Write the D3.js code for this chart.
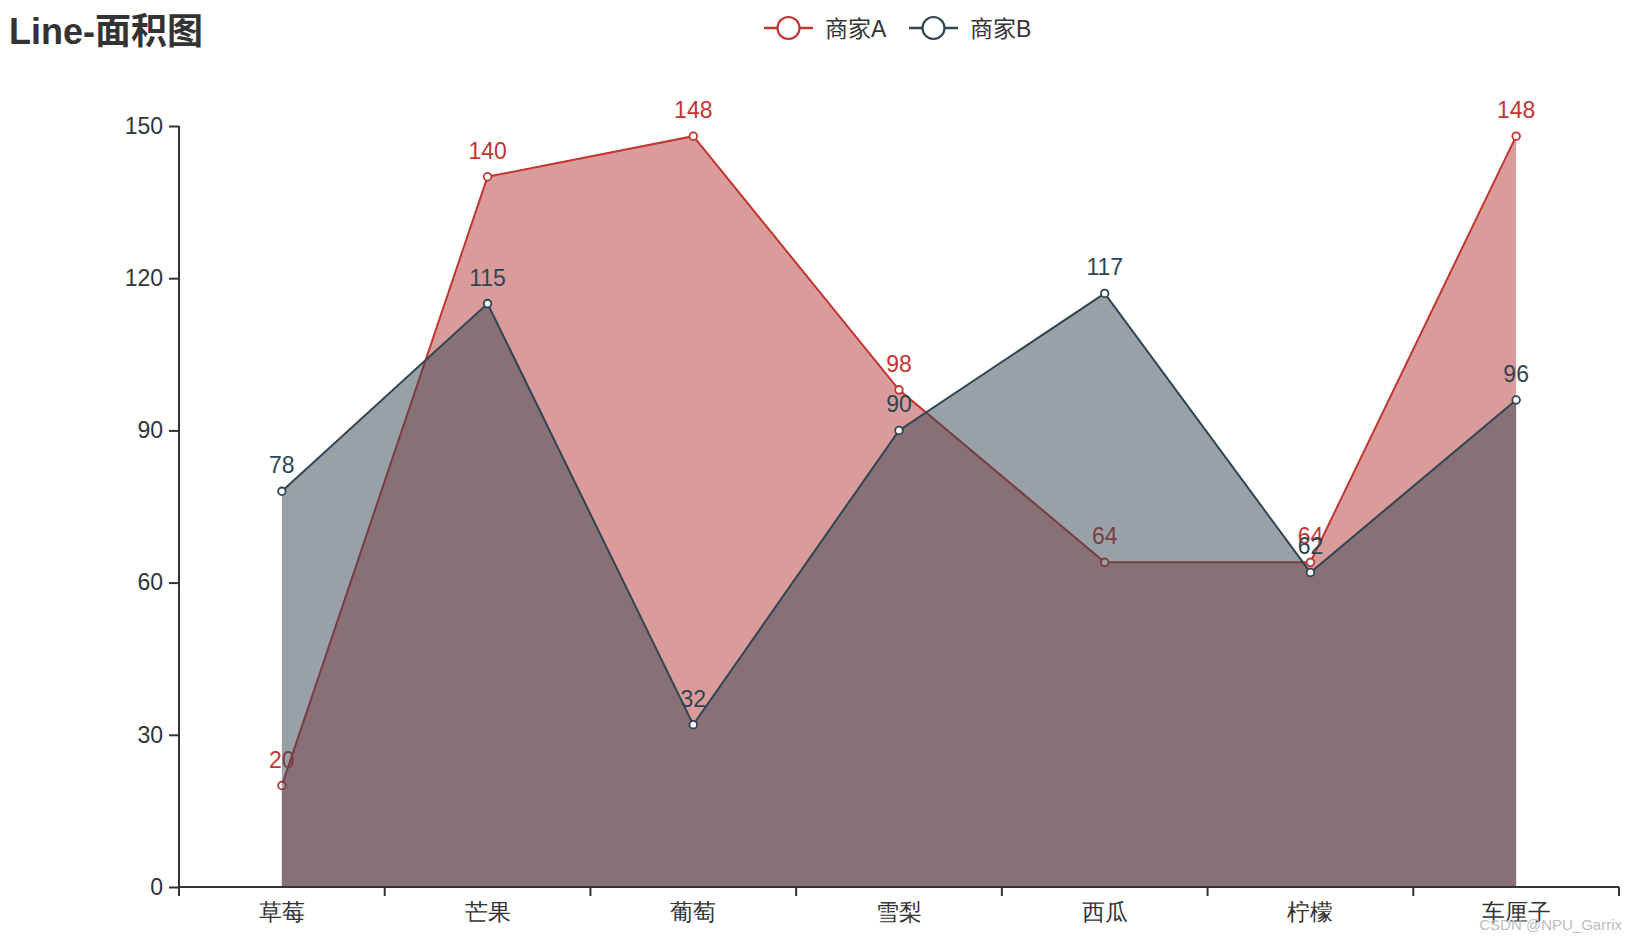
<!DOCTYPE html>
<html>
<head>
<meta charset="utf-8">
<script src="https://cdn.jsdelivr.net/npm/d3@7"></script>
<style>
  body { margin: 0; background: #fff; }
  svg { font-family: "Helvetica Neue", Arial, "Liberation Sans", "Noto Sans CJK SC", sans-serif; }
</style>
</head>
<body>
<svg id="chart" width="1638" height="942"></svg>
<script>
var categories = ["草莓", "芒果", "葡萄", "雪梨", "西瓜", "柠檬", "车厘子"]
var seriesNames = ["商家A", "商家B"]
var valuesA = [20, 140, 148, 98, 64, 64, 148]
var valuesB = [78, 115, 32, 90, 117, 62, 96]
var yTicks = [0, 30, 60, 90, 120, 150]
var colors = ["#c23531", "#2f4554"]
var areaColors = ["#b53a37", "#344351"]

var plotLeft = 179, plotRight = 1619, plotTop = 126, plotBottom = 887

var svg = d3.select("#chart")

// scales
var x = d3.scaleBand().domain(categories).range([plotLeft, plotRight])
var y = d3.scaleLinear().domain([0, 150]).range([plotBottom, plotTop])

// title
svg.append("text")
    .attr("x", 9).attr("y", 44)
    .attr("font-size", 36).attr("font-weight", "bold")
    .attr("fill", "#333")
    .text("Line-面积图")

// legend
var legendX = [764, 909]
seriesNames.forEach(function (name, i) {
    var g = svg.append("g").attr("transform", "translate(" + legendX[i] + ",28)")
    g.append("line").attr("x1", 0).attr("x2", 49).attr("y1", 0).attr("y2", 0)
        .attr("stroke", colors[i]).attr("stroke-width", 2.5)
    g.append("circle").attr("cx", 24.5).attr("cy", 0).attr("r", 11)
        .attr("fill", "#fff").attr("stroke", colors[i]).attr("stroke-width", 2.2)
    g.append("text").attr("x", 61).attr("y", 9)
        .attr("font-size", 23).attr("fill", "#333").text(name)
})

// series - A first, B on top
var allData = [valuesA, valuesB]
var cx = function (d, i) { return x(categories[i]) + x.bandwidth() / 2 }

allData.forEach(function (vals, s) {
    var g = svg.append("g").attr("class", "series")

    var area = d3.area()
        .x(cx)
        .y0(y(0))
        .y1(function (d) { return y(d) })
    g.append("path").datum(vals)
        .attr("d", area)
        .attr("fill", areaColors[s]).attr("fill-opacity", 0.5)

    var line = d3.line().x(cx).y(function (d) { return y(d) })
    g.append("path").datum(vals)
        .attr("d", line)
        .attr("fill", "none").attr("stroke", colors[s]).attr("stroke-width", 2)

    g.selectAll(".dot").data(vals).enter().append("circle")
        .attr("class", "dot")
        .attr("cx", cx)
        .attr("cy", function (d) { return y(d) })
        .attr("r", 3.8)
        .attr("fill", "#fff").attr("stroke", colors[s]).attr("stroke-width", 1.8)

    g.selectAll(".lbl").data(vals).enter().append("text")
        .attr("class", "lbl")
        .attr("x", cx)
        .attr("y", function (d) { return y(d) - 18 })
        .attr("text-anchor", "middle")
        .attr("font-size", 23)
        .attr("fill", colors[s])
        .text(function (d) { return d })
})

// axes
var yAxis = d3.axisLeft(y).tickValues(yTicks).tickSize(10).tickPadding(6)
var gy = svg.append("g").attr("transform", "translate(" + plotLeft + ",0)").call(yAxis)
gy.select(".domain").attr("stroke", "#333").attr("stroke-width", 2)
    .attr("d", "M0," + plotTop + "V" + plotBottom)
gy.selectAll(".tick line").attr("stroke", "#333").attr("stroke-width", 2)
gy.selectAll(".tick text").attr("font-size", 23).attr("fill", "#333")
    .attr("font-family", null)

var xAxis = d3.axisBottom(x).tickSize(0).tickPadding(17)
var gx = svg.append("g").attr("transform", "translate(0," + plotBottom + ")").call(xAxis)
gx.select(".domain").attr("stroke", "#333").attr("stroke-width", 2)
    .attr("d", "M" + plotLeft + ",0H" + plotRight)
gx.selectAll(".tick text").attr("font-size", 23).attr("fill", "#333")
    .attr("font-family", null)
// boundary ticks between categories
var bounds = categories.map(function (c) { return x(c) }).concat([plotRight])
gx.selectAll(".bound").data(bounds).enter().append("line")
    .attr("class", "bound")
    .attr("x1", function (d) { return d }).attr("x2", function (d) { return d })
    .attr("y1", 0).attr("y2", 9)
    .attr("stroke", "#333").attr("stroke-width", 2)

// watermark
svg.append("text")
    .attr("x", 1622).attr("y", 930)
    .attr("text-anchor", "end")
    .attr("font-size", 15).attr("fill", "#bdbdbd")
    .text("CSDN @NPU_Garrix")
</script>
</body>
</html>
